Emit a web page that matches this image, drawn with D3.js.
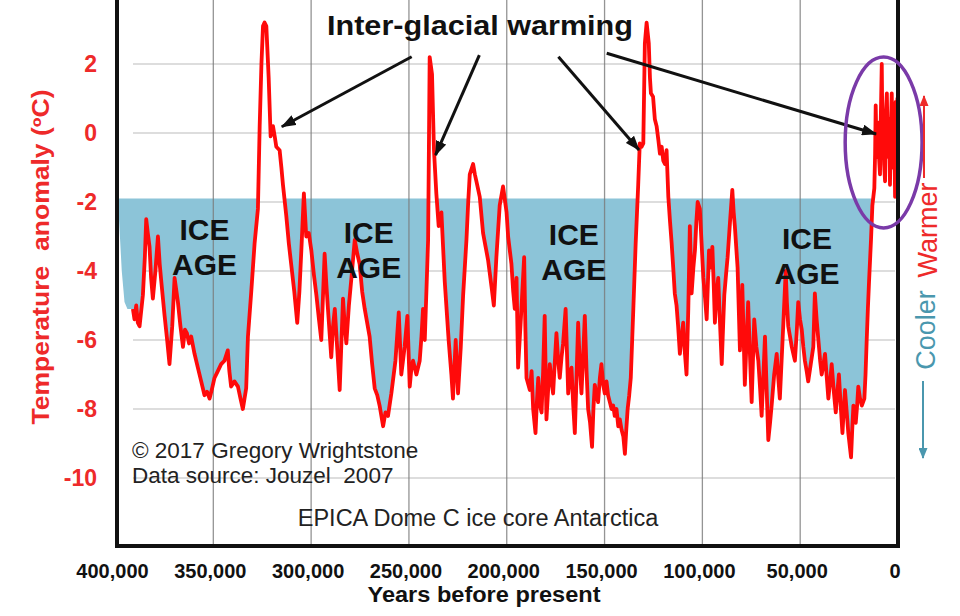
<!DOCTYPE html>
<html lang="en">
<head>
<meta charset="UTF-8">
<title>EPICA Dome C</title>
<script src="https://cdn.jsdelivr.net/npm/d3@7"></script>
<style>
body{margin:0;background:#fff;}
svg{display:block;font-family:"Liberation Sans",Arial,sans-serif;}
</style>
</head>
<body>
<div id="grafica"></div>
<script>
// EPICA Dome C, [thousand years before present, temperature anomaly ºC]
epica=[[391.1,-5.1],[390.3,-5.4],[389.4,-5.0],[388.6,-5.5],[387.7,-5.6],[386.0,-4.7],[385.0,-3.6],[384.3,-2.5],[383.5,-2.9],
[382.6,-3.3],[381.8,-4.2],[380.9,-4.8],[379.6,-4.0],[378.3,-3.0],[377.4,-3.8],[376.6,-4.3],[374.9,-5.3],[373.6,-6.0],
[372.4,-6.7],[371.0,-5.6],[369.8,-4.2],[368.1,-4.9],[366.8,-5.6],[365.5,-6.2],[364.5,-5.7],[363.5,-5.8],[362.4,-6.1],
[361.3,-5.9],[359.6,-6.4],[357.9,-6.8],[356.2,-7.2],[354.5,-7.6],[353.2,-7.5],[351.9,-7.7],[350.6,-7.4],[349.4,-7.1],
[347.7,-6.9],[346,-6.7],[344.3,-6.6],[342.6,-6.3],[341.8,-6.9],[340.9,-7.35],[339.2,-7.2],[337.4,-7.35],[336.1,-7.7],
[334.9,-8.0],[333.2,-7.4],[332.3,-5.9],[330.6,-4.6],[328.9,-3.2],[327.2,-2.2],[326.3,0.2],[325.4,2.0],[324.6,3.1],
[323.8,3.2],[322.9,3.1],[321.7,1.6],[320.7,-0.1],[319.5,0.2],[318.6,-0.1],[317.8,-0.4],[316.1,-0.5],[315.2,-1.0],
[314.4,-1.5],[312.7,-2.4],[311.4,-3.2],[310.2,-3.8],[308.6,-4.6],[307.1,-5.5],[306.0,-4.6],[305,-3.4],[303.7,-1.75],
[302.5,-3.0],[301.2,-2.9],[299.9,-3.4],[298.6,-4.1],[297.3,-4.7],[296.0,-5.4],[294.8,-6.0],[293.1,-3.5],[292.2,-4.4],
[291.4,-5.1],[289.7,-6.5],[288.8,-5.6],[287.9,-5.1],[286.6,-6.3],[285.4,-7.45],[283.7,-4.8],[282.8,-5.6],[282,-6.1],
[280.7,-5.0],[279.4,-4.2],[277.7,-3.1],[276.4,-3.5],[275.2,-3.8],[273.9,-4.6],[272.6,-5.1],[270.1,-5.9],[268.8,-6.7],
[267.5,-7.4],[266.2,-7.6],[265,-7.9],[263.2,-8.5],[262.0,-8.1],[260.7,-8.2],[259,-7.55],[256.9,-6.6],[255.2,-5.2],
[253.9,-7.0],[252.2,-6.2],[250.8,-5.3],[249.6,-7.35],[248.7,-6.8],[247.9,-6.6],[246.2,-7.0],[244.5,-6.6],[243.6,-5.9],
[242.8,-5.1],[241.9,-6.0],[240.2,-3.1],[239.8,-0.5],[239.4,2.2],[238.2,1.7],[237.7,0.6],[237.2,-0.5],[236,-1.75],
[234.8,-2.7],[233.4,-2.3],[231.7,-4.3],[229.7,-6.0],[228.3,-7.0],[227.5,-7.7],[226.1,-6.0],[224.9,-7.55],[223.5,-6.2],
[222.3,-4.7],[220.6,-3.1],[219.7,-2.0],[218.9,-1.2],[217.2,-0.9],[216.3,-1.2],[215.5,-1.4],[213.8,-1.85],[212.1,-2.9],
[210.8,-3.3],[209.5,-3.7],[207.8,-4.45],[206.6,-5.0],[205.3,-3.6],[203.6,-2.1],[201.9,-1.55],[200.1,-2.3],[199.3,-3.0],
[197.6,-3.8],[196.7,-4.6],[195.9,-5.1],[195,-4.2],[194.2,-6.8],[193.3,-5.9],[192.5,-5.1],[191.1,-3.6],[190.5,-5.6],
[189.9,-7.1],[188.2,-7.45],[187.3,-6.9],[186.5,-8.0],[185.3,-8.7],[184.6,-7.8],[183.9,-7.1],[183.0,-7.9],[182.2,-8.1],
[181.4,-6.9],[180.6,-5.3],[179.7,-8.3],[178.8,-7.4],[178,-6.7],[177.1,-7.2],[176.3,-7.55],[175.4,-6.6],[174.6,-5.8],
[173.7,-6.6],[172.9,-7.1],[172.0,-6.5],[171.2,-6.1],[169.9,-5.1],[169.2,-6.4],[168.6,-7.55],[167.7,-7.0],[166.9,-6.8],
[166.0,-7.9],[165.2,-8.7],[164.4,-7.2],[163.5,-5.5],[162.6,-6.8],[161.8,-7.55],[160.9,-6.4],[160.1,-5.3],[159.2,-6.9],
[158.4,-8.0],[157.4,-8.4],[156.4,-9.1],[155.7,-8.0],[155,-7.3],[154.1,-7.6],[153.3,-7.8],[152.4,-7.1],[151.6,-6.7],
[150.7,-7.3],[149.9,-7.55],[149.0,-7.2],[148.2,-7.6],[147.3,-7.8],[146.4,-8.0],[145.6,-7.9],[144.8,-8.2],[143.9,-8.0],
[143,-8.5],[142.2,-8.3],[141.3,-8.6],[140.4,-8.8],[139.6,-9.3],[138.9,-8.6],[138.2,-8.0],[137.4,-7.6],[136.6,-7.1],
[135.3,-5.1],[134.1,-3.2],[132.8,-1.5],[132,-0.3],[131.1,-0.4],[130.2,-0.3],[129.4,2.6],[128.5,3.2],[127.4,2.6],
[126.8,1.6],[126.3,1.15],[125.2,1.05],[124.3,0.4],[123.4,0.2],[122.5,-0.2],[121.7,-0.6],[120.8,-0.4],[120,-0.8],
[119.1,-0.9],[118.3,-0.5],[117.4,-1.85],[116.5,-2.6],[115.7,-3.2],[114.9,-3.9],[114.1,-4.65],[113.2,-5.0],[112.4,-5.6],
[111.5,-6.4],[110.6,-5.9],[109.8,-5.5],[108.9,-6.4],[108.1,-7.0],[107.2,-5.1],[106.4,-2.7],[105.5,-4.65],[104.6,-3.9],
[103.8,-3.4],[103.1,-2.6],[102.4,-2.0],[101.3,-2.2],[100.4,-3.2],[99.5,-4.2],[98.6,-4.8],[97.8,-5.4],[96.6,-3.4],
[95.8,-3.9],[94.9,-3.3],[94.2,-4.4],[93.6,-5.5],[92.7,-4.6],[91.9,-4.2],[91.0,-5.5],[90.1,-6.7],[89.4,-5.6],[88.8,-4.7],
[87.9,-4.1],[87.1,-3.6],[85.9,-2.6],[84.7,-1.65],[84.0,-2.3],[83.4,-2.7],[82,-3.9],[81.4,-5.1],[80.8,-6.3],[79.6,-4.4],
[78.9,-5.9],[78.3,-7.3],[77.4,-6.0],[76.6,-4.9],[75.7,-6.4],[74.8,-7.8],[73.5,-5.4],[72.4,-6.2],[71.4,-6.6],[70.5,-7.4],
[69.7,-8.2],[68.8,-7.0],[68,-5.9],[67.1,-7.5],[66.3,-8.9],[65.4,-8.4],[64.6,-7.9],[63.3,-7.0],[62,-6.4],[61.2,-7.1],
[60.4,-7.7],[59.5,-6.6],[58.6,-5.5],[57.4,-4.0],[56.8,-4.9],[56.1,-5.6],[55.2,-5.9],[54.3,-6.2],[53.5,-6.4],[52.7,-6.6],
[51.8,-5.8],[51,-4.9],[50.1,-5.4],[49.2,-5.7],[48.4,-6.2],[47.6,-6.6],[46.7,-6.9],[45.9,-7.2],[44.6,-6.7],[43.3,-6.2],
[42.5,-4.65],[41.6,-5.4],[40.7,-6.0],[39.8,-6.6],[39,-7.0],[38.1,-6.7],[37.3,-6.4],[36.4,-7.1],[35.6,-7.7],[34.7,-7.2],
[33.9,-6.7],[32.8,-7.5],[31.8,-8.1],[31.0,-7.5],[30.2,-7.0],[29.3,-7.9],[28.4,-8.7],[27.7,-8.0],[27.1,-7.45],[26.2,-8.1],
[25.4,-8.7],[24,-9.4],[23.4,-8.6],[22.8,-7.9],[21.6,-8.4],[20.9,-7.9],[20.3,-7.35],[19.4,-7.7],[18.5,-7.9],[17.2,-7.7],
[16.6,-7.0],[16,-6.0],[15.4,-5.1],[14.8,-4.3],[13.8,-3.1],[13.1,-2.1],[12.1,-1.6],[11.7,-0.6],[11.4,0.8],[10.9,-0.7],
[10.6,-0.4],[10,0.3],[9.6,-0.8],[9.2,-1.2],[8.8,0.4],[8.3,2.0],[7.9,-0.3],[7.5,0.3],[7.1,-0.9],[6.6,-1.4],[6.2,0.6],
[5.7,1.15],[5.3,-0.2],[4.9,-0.7],[4.5,0.4],[4.1,-1.5],[3.6,0.2],[3.2,1.15],[2.8,-0.3],[2.4,-1.0],[1.9,0.3],[1.5,-1.85],
[1.2,0.9],[1.0,0.6],[0.6,-0.2],[0.3,1.0],[0.1,0.5]]

// left edge of the blue "ice age" band, before the record starts
iceEdge=[[399.3,-1.9],[398.3,-2.4],[396.8,-4.0],[395.4,-4.9],[393.9,-5.1]]
iceLevel=-1.9

xTicks=[400000,350000,300000,250000,200000,150000,100000,50000,0]
yTicks=[2,0,-2,-4,-6,-8,-10]

// label positions: [kyr, ºC of first line baseline]
iceLabels=[[354.5,-3.1],[270.6,-3.2],[165.7,-3.25],[46.5,-3.35]]
// arrows: [from kyr, from ºC, to kyr, to ºC]
arrows=[[248.6,2.21,315.0,0.18],[214.0,2.26,236.4,-0.64],[173.6,2.21,132.4,-0.49],[148.9,2.31,11.2,-0.03]]
// circled Holocene: kyr range, ºC range
holocene=[27,-12.3,2.2,-2.75]

W=960
H=616
svg=d3.select('#grafica').append('svg').attr('width',W).attr('height',H)

x=d3.scaleLinear().domain([400000,0]).range([115.5,898])
y=d3.scaleLinear().domain([4,-12]).range([-5,547])
kx=function(k){return x(k*1000)}

defs=svg.append('defs')
defs.append('clipPath').attr('id','plot').append('rect')
	.attr('x',117).attr('y',0).attr('width',781).attr('height',546)
function head(id,color,w,h) {
	defs.append('marker').attr('id',id)
		.attr('markerUnits','userSpaceOnUse')
		.attr('viewBox','0 0 '+w+' '+h)
		.attr('markerWidth',w).attr('markerHeight',h)
		.attr('refX',w-1).attr('refY',h/2)
		.attr('orient','auto')
		.append('path').attr('d','M0,0L'+w+','+(h/2)+'L0,'+h+'Z').attr('fill',color)
}
head('ah','#111',15,11)
head('ahRed','#ee2a2a',11,9)
head('ahBlue','#4a97ae',11,9)

g=svg.append('g').attr('clip-path','url(#plot)')

// horizontal grid
g.selectAll('line.hg').data(yTicks).enter().append('line').attr('class','hg')
	.attr('x1',133).attr('x2',895)
	.attr('y1',function(d){return y(d)}).attr('y2',function(d){return y(d)})
	.attr('stroke','#d2d2d2').attr('stroke-width',1.5)

// ice age fill
area=d3.area()
	.x(function(d){return kx(d[0])})
	.y0(y(iceLevel))
	.y1(function(d){return y(Math.min(d[1],iceLevel))})
g.append('path').datum(iceEdge.concat(epica)).attr('d',area).attr('fill','#8cc4d8')

// vertical grid
g.selectAll('line.vg').data(xTicks.slice(1,-1)).enter().append('line').attr('class','vg')
	.attr('x1',function(d){return x(d)}).attr('x2',function(d){return x(d)})
	.attr('y1',0).attr('y2',546)
	.attr('stroke','#7a7a7a').attr('stroke-width',1.3).attr('opacity',0.8)

// temperature
line=d3.line().x(function(d){return kx(d[0])}).y(function(d){return y(d[1])})
g.append('path').datum(epica).attr('d',line)
	.attr('fill','none').attr('stroke','#ff0a0a').attr('stroke-width',3.8)
	.attr('stroke-linejoin','round')

// frame
frame=svg.append('g').attr('stroke','#111').attr('stroke-width',4)
frame.append('line').attr('x1',117).attr('x2',117).attr('y1',0).attr('y2',548)
frame.append('line').attr('x1',898).attr('x2',898).attr('y1',0).attr('y2',548)
frame.append('line').attr('x1',115).attr('x2',900).attr('y1',546).attr('y2',546)

// ICE AGE labels
iceLabels.forEach(function(p) {
	t=svg.append('text').attr('text-anchor','middle').attr('font-weight','bold')
		.attr('font-size',30).attr('fill','#111')
	t.append('tspan').attr('x',kx(p[0])).attr('y',y(p[1])).text('ICE')
	t.append('tspan').attr('x',kx(p[0])).attr('y',y(p[1])+35).text('AGE')
})

// arrows
svg.selectAll('line.arr').data(arrows).enter().append('line').attr('class','arr')
	.attr('x1',function(d){return kx(d[0])}).attr('y1',function(d){return y(d[1])})
	.attr('x2',function(d){return kx(d[2])}).attr('y2',function(d){return y(d[3])})
	.attr('stroke','#111').attr('stroke-width',3).attr('marker-end','url(#ah)')

svg.append('text').attr('x',480).attr('y',35).attr('text-anchor','middle')
	.attr('font-weight','bold').attr('font-size',28).attr('fill','#111')
	.attr('textLength',306).attr('lengthAdjust','spacingAndGlyphs')
	.text('Inter-glacial warming')

svg.append('ellipse')
	.attr('cx',(kx(holocene[0])+kx(holocene[1]))/2)
	.attr('cy',(y(holocene[2])+y(holocene[3]))/2)
	.attr('rx',(kx(holocene[1])-kx(holocene[0]))/2)
	.attr('ry',(y(holocene[3])-y(holocene[2]))/2)
	.attr('fill','none').attr('stroke','#7a3aa8').attr('stroke-width',3.5)

// y axis labels
svg.selectAll('text.yt').data(yTicks).enter().append('text').attr('class','yt')
	.attr('x',97).attr('y',function(d){return y(d)+8})
	.attr('text-anchor','end').attr('font-weight','bold').attr('font-size',23)
	.attr('fill','#ee2a2a').text(function(d){return String(d)})
svg.append('text').attr('transform','translate(49,257) rotate(-90)')
	.attr('text-anchor','middle').attr('font-weight','bold').attr('font-size',23)
	.attr('textLength',335).attr('lengthAdjust','spacingAndGlyphs')
	.attr('fill','#ee2a2a').attr('xml:space','preserve').text('Temperature  anomaly (ºC)')

// x axis labels
svg.selectAll('text.xt').data(xTicks).enter().append('text').attr('class','xt')
	.attr('x',function(d){return x(d)-3}).attr('y',578)
	.attr('text-anchor','middle').attr('font-weight','bold').attr('font-size',20)
	.attr('fill','#111').text(function(d){return d3.format(',')(d)})
svg.append('text').attr('x',484).attr('y',602).attr('text-anchor','middle')
	.attr('font-weight','bold').attr('font-size',22).attr('fill','#111')
	.attr('textLength',233).attr('lengthAdjust','spacingAndGlyphs')
	.text('Years before present')

// notes
notes=svg.append('g').attr('font-size',22.5).attr('fill','#222')
notes.append('text').attr('x',132).attr('y',458).text('© 2017 Gregory Wrightstone')
notes.append('text').attr('x',132).attr('y',483).attr('xml:space','preserve').text('Data source: Jouzel  2007')
svg.append('text').attr('x',478).attr('y',526).attr('text-anchor','middle')
	.attr('font-size',23.5).attr('fill','#222').text('EPICA Dome C ice core Antarctica')

// warmer / cooler
svg.append('text').attr('transform','translate(937,230) rotate(-90)').attr('text-anchor','middle')
	.attr('font-size',27).attr('fill','#ee2a2a').text('Warmer')
svg.append('line').attr('x1',924).attr('x2',924).attr('y1',178).attr('y2',96)
	.attr('stroke','#ee2a2a').attr('stroke-width',2).attr('marker-end','url(#ahRed)')
svg.append('text').attr('transform','translate(935,330) rotate(-90)').attr('text-anchor','middle')
	.attr('font-size',27).attr('fill','#4a97ae').text('Cooler')
svg.append('line').attr('x1',923).attr('x2',923).attr('y1',381).attr('y2',458)
	.attr('stroke','#4a97ae').attr('stroke-width',2).attr('marker-end','url(#ahBlue)')
</script>
</body>
</html>
